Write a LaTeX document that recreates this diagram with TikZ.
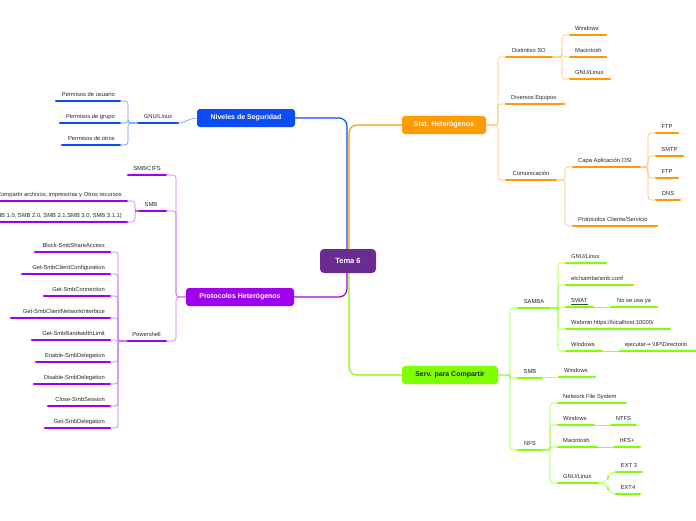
\documentclass[tikz,border=0pt]{standalone}
\usepackage{fontspec}
\setmainfont{Liberation Sans}
\newfontfamily\djv{DejaVu Sans}
\definecolor{cblue}{HTML}{0B4CF5}
\definecolor{corange}{HTML}{FF9A00}
\definecolor{cpurple}{HTML}{9F00F0}
\definecolor{cgreen}{HTML}{7FFF00}
\definecolor{ccenter}{HTML}{6A2C91}
\usetikzlibrary{calc}
\tikzset{
  lbl/.style={inner sep=0pt,font=\fontsize{5.8}{6.5}\selectfont,text=black!85},
  mainbox/.style={rounded corners=3pt,inner sep=0pt,minimum height=18pt,font=\bfseries\fontsize{7}{8}\selectfont,text=white},
  ul/.style={line width=2.6pt,line cap=round},
  conn/.style={line width=0.6pt,rounded corners=3pt},
  mconn/.style={line width=1.2pt,rounded corners=8pt}
}
% \lf{name}{x1}{x2}{y}{text}{color}{align: l r c}
\newcommand\lf[7]{%
  \coordinate (#1-l) at (#2,#4);
  \coordinate (#1-r) at (#3,#4);
  \draw[ul,#6] (#1-l) -- (#1-r);
  \if#7l\node[lbl,anchor=base west] (#1) at ([xshift=5pt,yshift=5pt]#1-l) {#5};\fi
  \if#7r\node[lbl,anchor=base east] (#1) at ([xshift=-5pt,yshift=5pt]#1-r) {#5};\fi
  \if#7c\node[lbl,anchor=base] (#1) at ($(#1-l)!0.5!(#1-r)+(0,5pt)$) {#5};\fi
}
\newcommand\rc[3]{\draw[conn,#3] (#1-r) -| ([xshift=-8pt]#2-l) -- (#2-l);}
\newcommand\lc[3]{\draw[conn,#3] (#1-l) -| ([xshift=8pt]#2-r) -- (#2-r);}
\begin{document}
\begin{tikzpicture}[x=1pt,y=-1pt]
\useasboundingbox (0,0) rectangle (696,520);
\clip (0,0) rectangle (696,520);
% center
\node[rounded corners=4pt,fill=ccenter,minimum width=56pt,minimum height=24pt,text=white,font=\bfseries\fontsize{7.5}{9}\selectfont] (c) at (348,261) {Tema 6};
\node[mainbox,fill=cblue,minimum width=98pt] (niv) at (246,118) {Niveles de Seguridad};
\node[mainbox,fill=corange,minimum width=84pt] (sis) at (444,125) {Sist. Heterógenos};
\node[mainbox,fill=cpurple,minimum width=108pt] (pro) at (240,297) {Protocolos Heterógenos};
\node[mainbox,fill=cgreen,minimum width=96pt,text=black!85] (ser) at (450,375) {Serv. para Compartir};
\draw[mconn,cblue] ([xshift=-1pt]c.north) |- (niv.east);
\draw[mconn,corange] ([xshift=1pt]c.north) |- (sis.west);
\draw[mconn,cpurple] ([xshift=-1pt]c.south) |- (pro.east);
\draw[mconn,cgreen] ([xshift=1pt]c.south) |- (ser.west);
% Niveles
\lf{gnu1}{138}{178}{123}{GNU/Linux}{cblue}{c}
\lf{pu}{56}{120}{101}{Permisos de usuario}{cblue}{r}
\lf{pg}{60}{120}{123}{Permisos de grupo}{cblue}{r}
\lf{po}{62}{120}{145}{Permisos de otros}{cblue}{r}
\draw[line width=0.6pt,cblue!60] (niv.west) to[out=180,in=0] (gnu1-r);
\lc{gnu1}{pu}{cblue!60}\lc{gnu1}{pg}{cblue!60}\lc{gnu1}{po}{cblue!60}
% Sist
\lf{dso}{506}{552}{57}{Distintiso SO}{corange}{c}
\lf{deq}{506}{564}{104}{Diversos Equipos}{corange}{l}
\lf{com}{506}{556}{180}{Comunicación}{corange}{c}
\foreach \n in {dso,deq,com}{\draw[conn,corange!60] (sis.east) -| ([xshift=-8pt]\n-l) -- (\n-l);}
\lf{win1}{570}{606}{35}{Windows}{corange}{l}
\lf{mac1}{570}{606}{57}{Macintosh}{corange}{l}
\lf{gnu2}{570}{610}{79}{GNU/Linux}{corange}{l}
\rc{dso}{win1}{corange!60}\rc{dso}{mac1}{corange!60}\rc{dso}{gnu2}{corange!60}
\lf{cap}{573}{640}{167}{Capa Aplicación OSI}{corange}{l}
\lf{pcs}{573}{657}{226}{Protocolos Cliente/Servicio}{corange}{l}
\rc{com}{cap}{corange!60}\rc{com}{pcs}{corange!60}
\lf{ftp1}{656}{678}{133}{FTP}{corange}{c}
\lf{smtp}{656}{683}{156}{SMTP}{corange}{c}
\lf{ftp2}{656}{678}{178}{FTP}{corange}{c}
\lf{dns}{656}{680}{200}{DNS}{corange}{c}
\rc{cap}{ftp1}{corange!60}\rc{cap}{smtp}{corange!60}\rc{cap}{ftp2}{corange!60}\rc{cap}{dns}{corange!60}
% Serv
\lf{samba}{518}{550}{308}{SAMBA}{cgreen}{c}
\lf{smb2}{518}{542}{378}{SMB}{cgreen}{c}
\lf{nfs}{518}{542}{450}{NFS}{cgreen}{c}
\foreach \n in {samba,smb2,nfs}{\draw[conn,cgreen!80] (ser.east) -| ([xshift=-8pt]\n-l) -- (\n-l);}
\lf{gnu3}{566}{606}{263}{GNU/Linux}{cgreen}{l}
\lf{etc}{566}{633}{285}{etc/samba/smb.conf}{cgreen}{l}
\lf{swat}{566}{593}{307}{SWAT}{cgreen}{l}
\draw[black!75,line width=0.4pt] ([yshift=-1.9pt]swat.base west) -- ([yshift=-1.9pt]swat.base east);
\lf{web}{566}{670}{329}{Webmin https://localhost:10000/}{cgreen}{l}
\lf{win2}{566}{602}{351}{Windows}{cgreen}{l}
\foreach \n in {gnu3,etc,swat,web,win2}{\rc{samba}{\n}{cgreen!80}}
\lf{nsu}{611}{657}{307}{No se usa ya}{cgreen}{c}
\lf{eje}{620}{700}{351}{ejecutar{\djv→} \textbackslash\textbackslash IP\textbackslash Directorio}{cgreen}{l}
\draw[conn,cgreen!80] (swat-r) -- (nsu-l);
\draw[conn,cgreen!80] (win2-r) -- (eje-l);
\lf{win3}{559}{595}{377}{Windows}{cgreen}{l}
\draw[conn,cgreen!80] (smb2-r) -- (win3-l);
\lf{nfsn}{558}{626}{403}{Network File System}{cgreen}{l}
\lf{win4}{558}{594}{425}{Windows}{cgreen}{l}
\lf{mac2}{558}{597}{447}{Macintosh}{cgreen}{l}
\lf{gnu4}{558}{598}{483}{GNU/Linux}{cgreen}{l}
\foreach \n in {nfsn,win4,mac2,gnu4}{\rc{nfs}{\n}{cgreen!80}}
\lf{ntfs}{611}{636}{425}{NTFS}{cgreen}{c}
\lf{hfs}{614}{640}{447}{HFS+}{cgreen}{c}
\draw[conn,cgreen!80] (win4-r) -- (ntfs-l);
\draw[conn,cgreen!80] (mac2-r) -- (hfs-l);
\lf{ext3}{616}{642}{472}{EXT 3}{cgreen}{c}
\lf{ext4}{616}{640}{494}{EXT4}{cgreen}{c}
\draw[conn,cgreen!80,rounded corners=8pt] (gnu4-r) -| ([xshift=-8pt]ext3-l) -- (ext3-l);
\draw[conn,cgreen!80,rounded corners=8pt] (gnu4-r) -| ([xshift=-8pt]ext4-l) -- (ext4-l);
% Protocolos
\lf{cifs}{128}{166}{175}{SMB/CIFS}{cpurple}{c}
\lf{smb1}{136}{166}{211}{SMB}{cpurple}{c}
\lf{pws}{127}{166}{341}{Powershell}{cpurple}{c}
\foreach \n in {cifs,smb1,pws}{\draw[conn,cpurple!55] (pro.west) -| ([xshift=10pt]\n-r) -- (\n-r);}
\lf{cmp}{-20}{127}{201}{Compartir archivos, impresoras y Otros recursos}{cpurple}{r}
\lf{ver}{-20}{127}{222}{Versiones (SMB 1.0, SMB 2.0, SMB 2.1,SMB 3.0, SMB 3.1.1)}{cpurple}{r}
\lc{smb1}{cmp}{cpurple!55}\lc{smb1}{ver}{cpurple!55}
\lf{p1}{35}{110}{252}{Block-SmbShareAccess}{cpurple}{r}
\lf{p2}{22}{110}{274}{Get-SmbClientConfiguration}{cpurple}{r}
\lf{p3}{44}{110}{296}{Get-SmbConnection}{cpurple}{r}
\lf{p4}{11}{110}{318}{Get-SmbClientNetworkInterface}{cpurple}{r}
\lf{p5}{32}{110}{340}{Get-SmbBandwidthLimit}{cpurple}{r}
\lf{p6}{36}{110}{362}{Enable-SmbDelegation}{cpurple}{r}
\lf{p7}{34}{110}{384}{Disable-SmbDelegation}{cpurple}{r}
\lf{p8}{48}{110}{406}{Close-SmbSession}{cpurple}{r}
\lf{p9}{45}{110}{428}{Get-SmbDelegation}{cpurple}{r}
\foreach \n in {p1,p2,p3,p4,p5,p6,p7,p8,p9}{\lc{pws}{\n}{cpurple!55}}
\end{tikzpicture}
\end{document}
